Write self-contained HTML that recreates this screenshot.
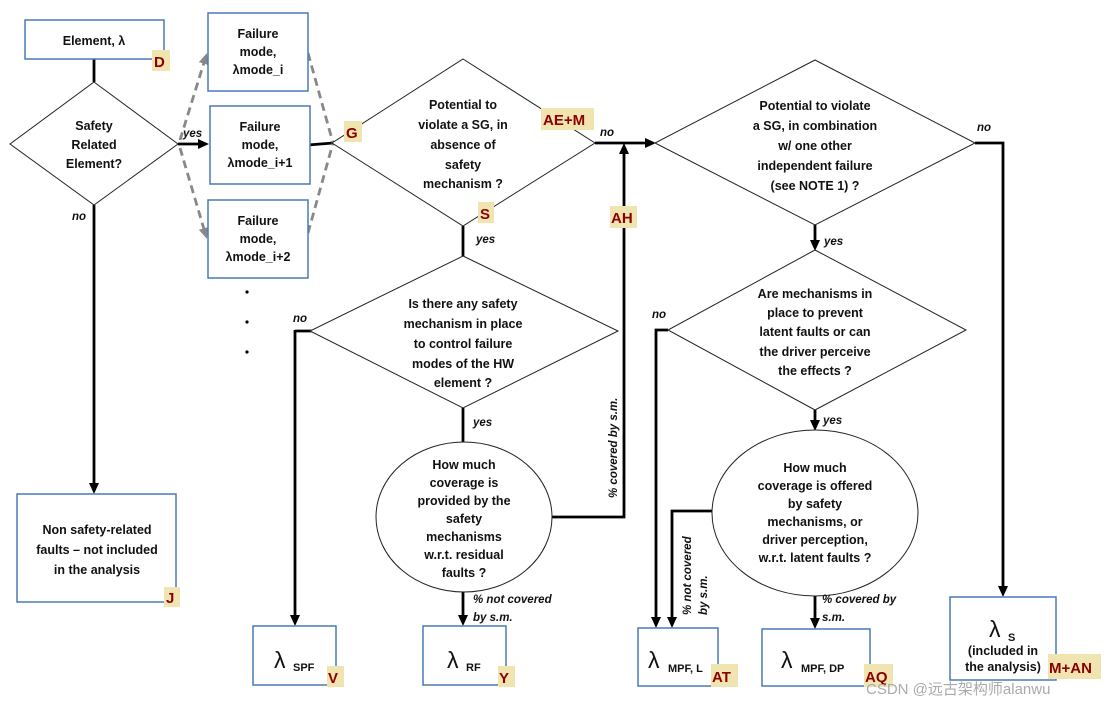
<!DOCTYPE html>
<html><head><meta charset="utf-8"><style>
html,body{margin:0;padding:0;background:#fff;}
svg{display:block;font-family:"Liberation Sans",sans-serif;}
.t{font-size:12.5px;font-weight:bold;fill:#111;text-anchor:middle;}
.l{font-size:11.5px;font-weight:bold;font-style:italic;fill:#111;}
.tag{font-size:15px;font-weight:bold;fill:#8b0000;}
.bx{fill:#fff;stroke:#4a7ab5;stroke-width:1.5;}
.dm{fill:#fff;stroke:#222;stroke-width:1;}
.ln{stroke:#000;stroke-width:2.8;fill:none;}
.ds{stroke:#888;stroke-width:2.8;fill:none;stroke-dasharray:8,5;}
.lam{font-size:23px;fill:#111;}
</style></head><body>
<svg width="1113" height="706" viewBox="0 0 1113 706" xmlns="http://www.w3.org/2000/svg">
<defs>
<marker id="a" markerWidth="11" markerHeight="10" refX="8" refY="5" orient="auto" markerUnits="userSpaceOnUse"><path d="M0,0 L11,5 L0,10 z" fill="#000"/></marker>
<marker id="g" markerWidth="11" markerHeight="10" refX="8" refY="5" orient="auto" markerUnits="userSpaceOnUse"><path d="M0,0 L11,5 L0,10 z" fill="#888"/></marker>
</defs>

<line class="ln" x1="94" y1="59" x2="94" y2="82"/>
<line class="ln" x1="94" y1="205" x2="94" y2="491" marker-end="url(#a)"/>
<line class="ln" x1="178" y1="144" x2="206" y2="144" marker-end="url(#a)"/>
<line class="ln" x1="308" y1="145" x2="333" y2="143"/>
<line class="ds" x1="180" y1="140" x2="206" y2="56" marker-end="url(#g)"/>
<line class="ds" x1="180" y1="148" x2="206" y2="236" marker-end="url(#g)"/>
<line class="ds" x1="308" y1="53" x2="333" y2="143"/>
<line class="ds" x1="308" y1="233" x2="333" y2="143"/>

<line class="ln" x1="595" y1="143" x2="653" y2="143" marker-end="url(#a)"/>
<line class="ln" x1="463" y1="226" x2="463" y2="257"/>
<line class="ln" x1="312" y1="331" x2="295" y2="331"/>
<line class="ln" x1="295" y1="330" x2="295" y2="623" marker-end="url(#a)"/>
<line class="ln" x1="463" y1="408" x2="463" y2="443"/>
<line class="ln" x1="463" y1="591" x2="463" y2="623" marker-end="url(#a)"/>
<polyline class="ln" points="552,517 624,517 624,146" marker-end="url(#a)"/>

<polyline class="ln" points="975,143 1003,143 1003,594" marker-end="url(#a)"/>
<line class="ln" x1="815" y1="225" x2="815" y2="248" marker-end="url(#a)"/>
<polyline class="ln" points="668,330 656,330 656,625" marker-end="url(#a)"/>
<line class="ln" x1="815" y1="410" x2="815" y2="428" marker-end="url(#a)"/>
<polyline class="ln" points="712,511 672,511 672,625" marker-end="url(#a)"/>
<line class="ln" x1="815" y1="596" x2="815" y2="626" marker-end="url(#a)"/>

<rect class="bx" x="25" y="20" width="139" height="39"/>
<text class="t" x="94" y="45">Element, λ</text>
<polygon class="dm" points="94,82 178,144 94,205 10,144"/>
<text class="t" x="94" y="130">Safety</text><text class="t" x="94" y="149">Related</text><text class="t" x="94" y="168">Element?</text>

<rect class="bx" x="208" y="13" width="100" height="78"/>
<text class="t" x="258" y="38">Failure</text><text class="t" x="258" y="56">mode,</text><text class="t" x="258" y="74">λmode_i</text>
<rect class="bx" x="210" y="106" width="100" height="78"/>
<text class="t" x="260" y="131">Failure</text><text class="t" x="260" y="149">mode,</text><text class="t" x="260" y="167">λmode_i+1</text>
<rect class="bx" x="208" y="200" width="100" height="78"/>
<text class="t" x="258" y="225">Failure</text><text class="t" x="258" y="243">mode,</text><text class="t" x="258" y="261">λmode_i+2</text>
<circle cx="247" cy="292" r="1.6"/><circle cx="247" cy="322" r="1.6"/><circle cx="247" cy="352" r="1.6"/>

<polygon class="dm" points="463,59 595,143 463,226 332,143"/>
<text class="t" x="463" y="109">Potential to</text><text class="t" x="463" y="129">violate a SG, in</text><text class="t" x="463" y="149">absence of</text><text class="t" x="463" y="169">safety</text><text class="t" x="463" y="188">mechanism ?</text>

<polygon class="dm" points="463,256 618,331 463,408 310,331"/>
<text class="t" x="463" y="308">Is there any safety</text><text class="t" x="463" y="328">mechanism in place</text><text class="t" x="463" y="348">to control failure</text><text class="t" x="463" y="368">modes of the HW</text><text class="t" x="463" y="387">element ?</text>

<ellipse class="dm" cx="464" cy="517" rx="88" ry="75"/>
<text class="t" x="464" y="469">How much</text><text class="t" x="464" y="487">coverage is</text><text class="t" x="464" y="505">provided by the</text><text class="t" x="464" y="523">safety</text><text class="t" x="464" y="541">mechanisms</text><text class="t" x="464" y="559">w.r.t. residual</text><text class="t" x="464" y="577">faults ?</text>

<polygon class="dm" points="815,60 975,143 815,225 655,143"/>
<text class="t" x="815" y="110">Potential to violate</text><text class="t" x="815" y="130">a SG, in combination</text><text class="t" x="815" y="150">w/ one other</text><text class="t" x="815" y="170">independent failure</text><text class="t" x="815" y="190">(see NOTE 1) ?</text>

<polygon class="dm" points="815,250 966,330 815,410 668,330"/>
<text class="t" x="815" y="298">Are mechanisms in</text><text class="t" x="815" y="317">place to prevent</text><text class="t" x="815" y="336">latent faults or can</text><text class="t" x="815" y="356">the driver perceive</text><text class="t" x="815" y="375">the effects ?</text>

<ellipse class="dm" cx="815" cy="513" rx="103" ry="83"/>
<text class="t" x="815" y="472">How much</text><text class="t" x="815" y="490">coverage is offered</text><text class="t" x="815" y="508">by safety</text><text class="t" x="815" y="526">mechanisms, or</text><text class="t" x="815" y="544">driver perception,</text><text class="t" x="815" y="562">w.r.t. latent faults ?</text>

<rect class="bx" x="17" y="494" width="159" height="108"/>
<text class="t" x="97" y="534">Non safety-related</text><text class="t" x="97" y="554">faults – not included</text><text class="t" x="97" y="574">in the analysis</text>

<rect class="bx" x="253" y="626" width="83" height="59"/>
<text class="lam" x="274" y="668">λ</text><text x="293" y="671" font-size="11" font-weight="bold" fill="#111">SPF</text>
<rect class="bx" x="423" y="626" width="83" height="59"/>
<text class="lam" x="447" y="668">λ</text><text x="466" y="671" font-size="11" font-weight="bold" fill="#111">RF</text>
<rect class="bx" x="638" y="628" width="80" height="58"/>
<text class="lam" x="648" y="668">λ</text><text x="668" y="672" font-size="11" font-weight="bold" fill="#111">MPF, L</text>
<rect class="bx" x="762" y="629" width="108" height="57"/>
<text class="lam" x="781" y="668">λ</text><text x="801" y="672" font-size="11" font-weight="bold" fill="#111">MPF, DP</text>
<rect class="bx" x="950" y="597" width="106" height="83"/>
<text class="lam" x="989" y="637">λ</text><text x="1008" y="641" font-size="11" font-weight="bold" fill="#111">S</text>
<text class="t" x="1003" y="655">(included in</text><text class="t" x="1003" y="671">the analysis)</text>

<text class="l" x="183" y="137">yes</text>
<text class="l" x="72" y="220">no</text>
<text class="l" x="600" y="136">no</text>
<text class="l" x="476" y="243">yes</text>
<text class="l" x="293" y="322">no</text>
<text class="l" x="473" y="426">yes</text>
<text class="l" x="473" y="603">% not covered</text><text class="l" x="473" y="621">by s.m.</text>
<text class="l" x="617" y="498" transform="rotate(-90 617 498)">% covered by s.m.</text>
<text class="l" x="977" y="131">no</text>
<text class="l" x="824" y="245">yes</text>
<text class="l" x="652" y="318">no</text>
<text class="l" x="823" y="424">yes</text>
<text class="l" x="691" y="615" transform="rotate(-90 691 615)">% not covered</text>
<text class="l" x="707" y="615" transform="rotate(-90 707 615)">by s.m.</text>
<text class="l" x="822" y="603">% covered by</text><text class="l" x="822" y="621">s.m.</text>

<rect x="152" y="50" width="18" height="21" fill="#f0e4b0"/><text class="tag" x="154" y="67">D</text>
<rect x="344" y="121" width="18" height="21" fill="#f0e4b0"/><text class="tag" x="346" y="138">G</text>
<rect x="541" y="108" width="53" height="22" fill="#f0e4b0"/><text class="tag" x="543" y="125">AE+M</text>
<rect x="478" y="202" width="16" height="21" fill="#f0e4b0"/><text class="tag" x="480" y="219">S</text>
<rect x="610" y="206" width="27" height="22" fill="#f0e4b0"/><text class="tag" x="611" y="223">AH</text>
<rect x="164" y="587" width="16" height="20" fill="#f0e4b0"/><text class="tag" x="166" y="603">J</text>
<rect x="327" y="666" width="17" height="21" fill="#f0e4b0"/><text class="tag" x="328" y="683">V</text>
<rect x="498" y="666" width="17" height="21" fill="#f0e4b0"/><text class="tag" x="499" y="683">Y</text>
<rect x="711" y="664" width="27" height="23" fill="#f0e4b0"/><text class="tag" x="712" y="682">AT</text>
<rect x="864" y="664" width="29" height="23" fill="#f0e4b0"/><text class="tag" x="865" y="682">AQ</text>
<rect x="1048" y="654" width="53" height="25" fill="#f0e4b0"/><text class="tag" x="1049" y="673">M+AN</text>

<text x="866" y="694" font-size="15" fill="#aaa" font-family="'Liberation Sans','Noto Sans CJK SC',sans-serif">CSDN @远古架构师alanwu</text>
</svg>
</body></html>
